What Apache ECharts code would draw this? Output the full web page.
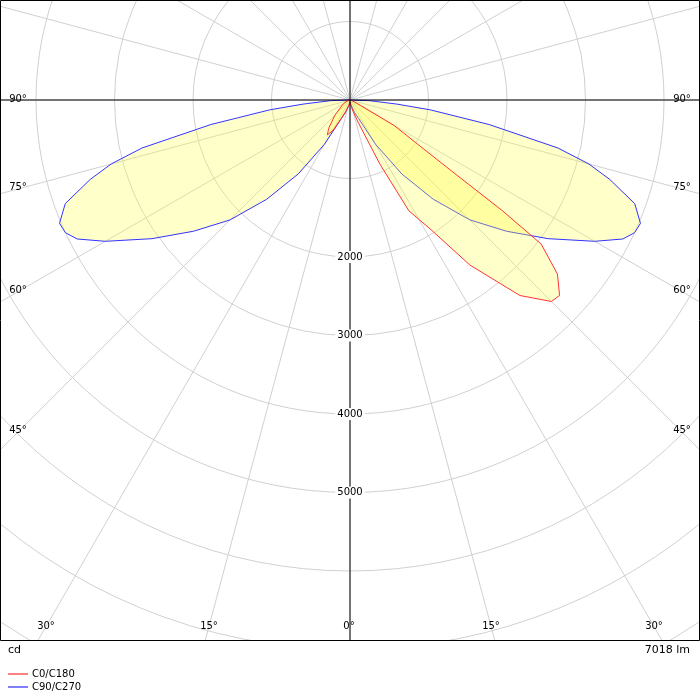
<!DOCTYPE html>
<html><head><meta charset="utf-8">
<script src="https://cdn.jsdelivr.net/npm/echarts@6/dist/echarts.min.js"></script>
<style>html,body{margin:0;padding:0;background:#fff}#c{width:700px;height:700px}</style>
</head><body><div id="c"></div>
<script>
// gamma angles (deg, right side positive) and intensities (cd)
const blueAngles = [0,10,20,25,30,35,40,45,50,55,60,63,65,67,70,73,75,77,80,83,85,88,90];
const blueValues = [20,60,170,260,650,1150,1650,2160,2600,3080,3600,3900,4000,4020,3860,3460,3150,2720,1800,1030,600,250,0];
const redRightAngles = [0,10,15,20,25,28,32,36,41,45,47,50,53,54,55,57,60,63,70,90];
const redRightValues = [30,80,150,300,900,1600,1950,2600,3300,3630,3650,3450,3050,2400,1600,1000,650,150,30,0];
const redLeftAngles = [0,10,20,25,29,33,37,45,60,75,90];
const redLeftValues = [30,60,150,250,440,530,450,270,100,30,0];
const ringLabels = [2000,3000,4000,5000];
const seriesNames = ['C0/C180','C90/C270'];

function loop(lA,lV,rA,rV){
  const out=[];
  for(let i=lA.length-1;i>=0;i--) out.push([lV[i], (360-lA[i])%360===0?360:360-lA[i]]);
  for(let i=0;i<rA.length;i++) out.push([rV[i], rA[i]]);
  return out;
}
const blueData = loop(blueAngles,blueValues,blueAngles,blueValues);
const redData = loop(redLeftAngles,redLeftValues,redRightAngles,redRightValues);

const chart = echarts.init(document.getElementById('c'));
const cx=350, cy=100, pxPer=0.0785;
const txt = {fontFamily:'DejaVu Sans',fontSize:10,fill:'#000'};
const graphics = [
  {type:'rect',shape:{x:0,y:641,width:700,height:59},style:{fill:'#fff'},z:100},
  {type:'line',shape:{x1:0,y1:cy,x2:700,y2:cy},style:{stroke:'#000',lineWidth:1},z:50},
  {type:'line',shape:{x1:cx,y1:0,x2:cx,y2:640},style:{stroke:'#000',lineWidth:1},z:50},
  {type:'rect',shape:{x:0.5,y:0.5,width:699,height:640},style:{fill:'none',stroke:'#000',lineWidth:1},z:101},
  {type:'text',x:8,y:645,style:Object.assign({text:'cd'},txt,{fontSize:11}),z:102},
  {type:'text',x:690,y:645,style:Object.assign({text:'7018 lm',align:'right'},txt,{fontSize:11}),z:102},
  {type:'line',shape:{x1:8,y1:674,x2:28,y2:674},style:{stroke:'#ff0000'},z:102},
  {type:'text',x:32,y:669,style:Object.assign({text:seriesNames[0]},txt),z:102},
  {type:'line',shape:{x1:8,y1:687,x2:28,y2:687},style:{stroke:'#0000ff'},z:102},
  {type:'text',x:32,y:682,style:Object.assign({text:seriesNames[1]},txt),z:102}
];
ringLabels.forEach(v=>graphics.push({type:'text',x:cx,y:cy+v*pxPer,style:Object.assign({text:String(v),align:'center',verticalAlign:'middle',backgroundColor:'#fff',padding:[1,2]},txt),z:60}));
const edge=[['90°',18,99],['75°',18,187],['60°',18,290],['45°',18,430],['30°',46,626],['15°',209,626],['0°',349,626]];
edge.forEach(e=>{
  graphics.push({type:'text',x:e[1],y:e[2],style:Object.assign({text:e[0],align:'center',verticalAlign:'middle'},txt),z:60});
  if(e[0]!=='0°') graphics.push({type:'text',x:700-e[1],y:e[2],style:Object.assign({text:e[0],align:'center',verticalAlign:'middle'},txt),z:60});
});

chart.setOption({
  animation:false,
  polar:{center:[cx,cy],radius:785},
  angleAxis:{type:'value',min:0,max:360,interval:15,startAngle:270,clockwise:false,
    axisLine:{show:false},axisTick:{show:false},axisLabel:{show:false},
    splitLine:{lineStyle:{color:'#d0d0d0',width:1}}},
  radiusAxis:{type:'value',min:0,max:10000,interval:1000,
    axisLine:{show:false},axisTick:{show:false},axisLabel:{show:false},
    splitLine:{lineStyle:{color:'#d0d0d0',width:1}}},
  series:[
    {name:seriesNames[1],type:'line',coordinateSystem:'polar',data:blueData,symbol:'none',
      lineStyle:{color:'#3333ff',width:1},areaStyle:{color:'rgba(255,255,60,0.4)'},z:3},
    {name:seriesNames[0],type:'line',coordinateSystem:'polar',data:redData,symbol:'none',
      lineStyle:{color:'#ff3333',width:1},areaStyle:{color:'rgba(255,255,60,0.4)'},z:4}
  ],
  graphic:graphics
});
</script></body></html>
